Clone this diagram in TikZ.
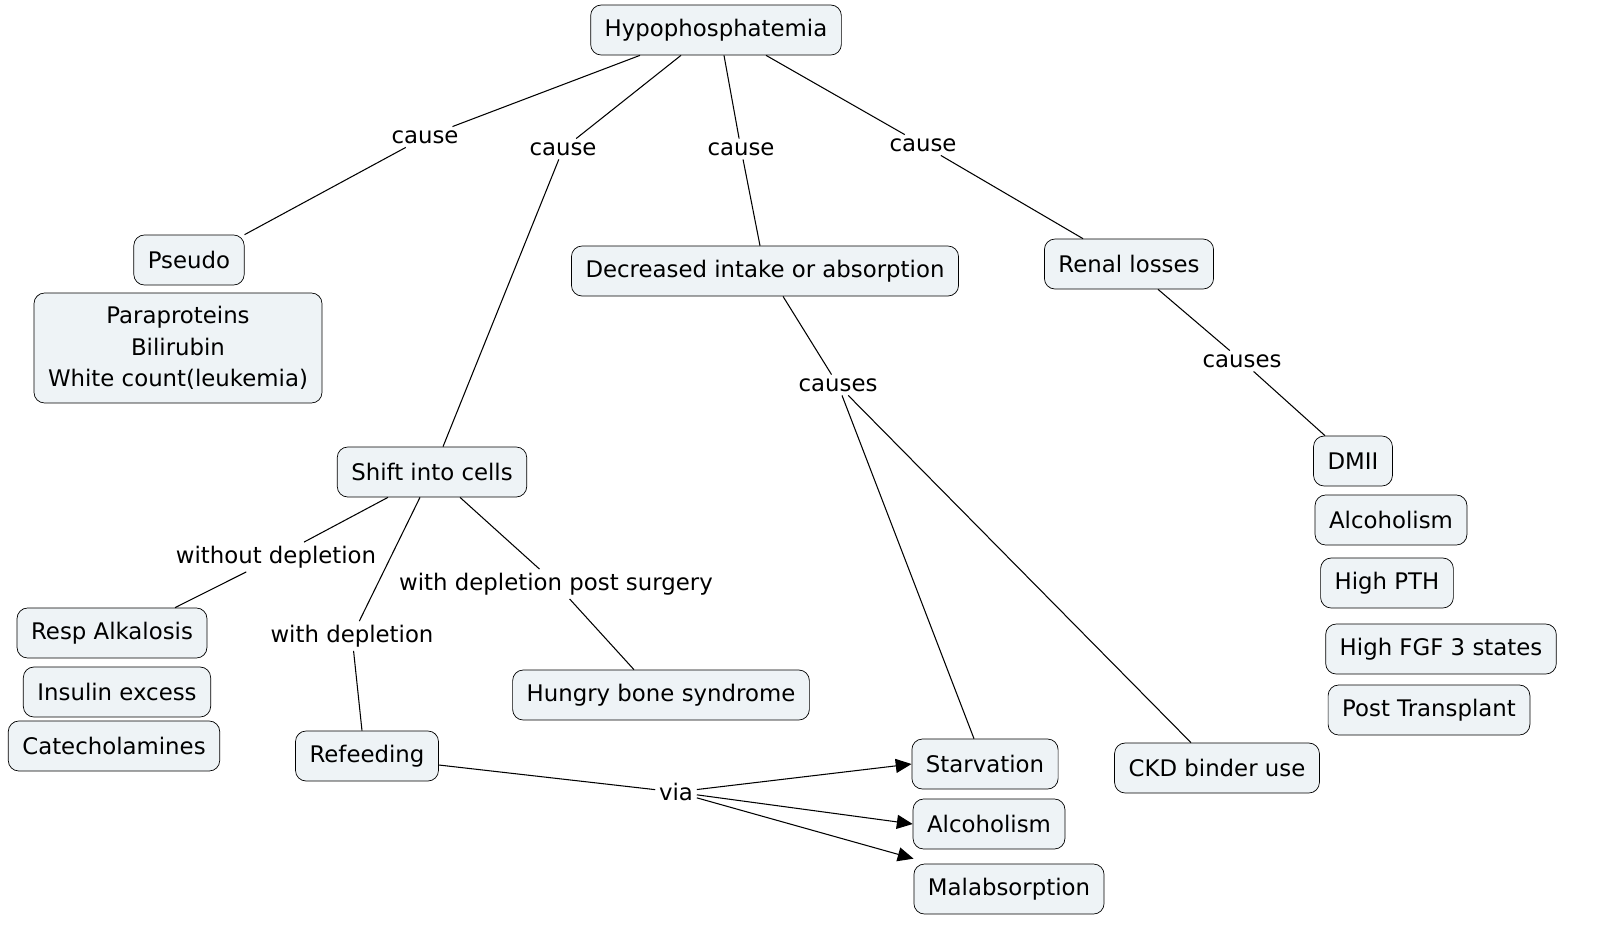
\documentclass[tikz,border=0pt]{standalone}
\usepackage{fontspec}
\setmainfont{DejaVu Sans}
\usetikzlibrary{calc,arrows.meta}
\definecolor{boxfill}{HTML}{EEF3F6}
\begin{document}
\begin{tikzpicture}[x=0.02cm,y=-0.02cm,
    every node/.style={font=\fontsize{13}{18}\selectfont},
    box/.style={draw, rounded corners=6pt, fill=boxfill, minimum height=1cm, inner xsep=8pt, align=center},
    lbl/.style={inner sep=2pt},
    link/.style={semithick},
    arrow/.style={semithick, -{Triangle[length=9pt,width=8pt]}}
  ]
  \useasboundingbox (0,0) rectangle (1600,941);

  \node[box] (hypo) at (716,30) {Hypophosphatemia};
  \node[box] (pseudo) at (189,260) {Pseudo};
  \node[box, minimum height=2.2cm] (pseudolist) at (178,348) {Paraproteins\\Bilirubin\\White count(leukemia)};
  \node[box] (decreased) at (765,271) {Decreased intake or absorption};
  \node[box] (renal) at (1129,264) {Renal losses};
  \node[box] (shift) at (432,472) {Shift into cells};
  \node[box] (resp) at (112,633) {Resp Alkalosis};
  \node[box] (insulin) at (117,692) {Insulin excess};
  \node[box] (catechol) at (114,746) {Catecholamines};
  \node[box] (refeeding) at (367,756) {Refeeding};
  \node[box] (hungry) at (661,695) {Hungry bone syndrome};
  \node[box] (starvation) at (985,764) {Starvation};
  \node[box] (alcohol) at (989,824) {Alcoholism};
  \node[box] (malabs) at (1009,889) {Malabsorption};
  \node[box] (ckd) at (1217,768) {CKD binder use};
  \node[box] (dmii) at (1353,461) {DMII};
  \node[box] (alcrenal) at (1391,520) {Alcoholism};
  \node[box] (pth) at (1387,583) {High PTH};
  \node[box] (fgf) at (1441,649) {High FGF 3 states};
  \node[box] (post) at (1429,710) {Post Transplant};

  % link labels
  \node[lbl] (cause1) at (425,137) {cause};
  \node[lbl] (cause2) at (563,149) {cause};
  \node[lbl] (cause3) at (741,149) {cause};
  \node[lbl] (cause4) at (923,145) {cause};
  \node[lbl] (causes1) at (838,385) {causes};
  \node[lbl] (causes2) at (1242,361) {causes};
  \node[lbl] (without) at (276,557) {without depletion};
  \node[lbl] (withdep) at (352,636) {with depletion};
  \node[lbl] (surgery) at (556,584) {with depletion post surgery};
  \node[lbl] (via) at (676,792) {via};

  \draw[link] ($(hypo.south)+(-76,0)$) -- (cause1) -- (pseudo.north east);
  \draw[link] ($(hypo.south)+(-35,0)$) -- (cause2) -- ($(shift.north)+(11,0)$);
  \draw[link] ($(hypo.south)+(8,0)$) -- (cause3) -- ($(decreased.north)+(-5,0)$);
  \draw[link] ($(hypo.south)+(50,0)$) -- (cause4) -- ($(renal.north)+(-46,0)$);
  \draw[link] ($(decreased.south)+(18,0)$) -- (causes1) -- ($(starvation.north)+(-11,0)$);
  \draw[link] (causes1) -- ($(ckd.north)+(-26,0)$);
  \draw[link] ($(renal.south)+(29,0)$) -- (causes2) -- ($(dmii.north)+(-28,0)$);
  \draw[link] ($(shift.south)+(-44,0)$) -- (without) -- ($(resp.north)+(63,0)$);
  \draw[link] ($(shift.south)+(-12,0)$) -- (withdep) -- ($(refeeding.north)+(-5,0)$);
  \draw[link] ($(shift.south)+(28,0)$) -- (surgery) -- ($(hungry.north)+(-27,0)$);
  \draw[link] ($(refeeding.east)+(0,9)$) -- (via);
  \draw[arrow] (via) -- (starvation.west);
  \draw[arrow] (via) -- (alcohol.west);
  \draw[arrow] (via) -- ($(malabs.north west)+(0,-5)$);
\end{tikzpicture}
\end{document}
